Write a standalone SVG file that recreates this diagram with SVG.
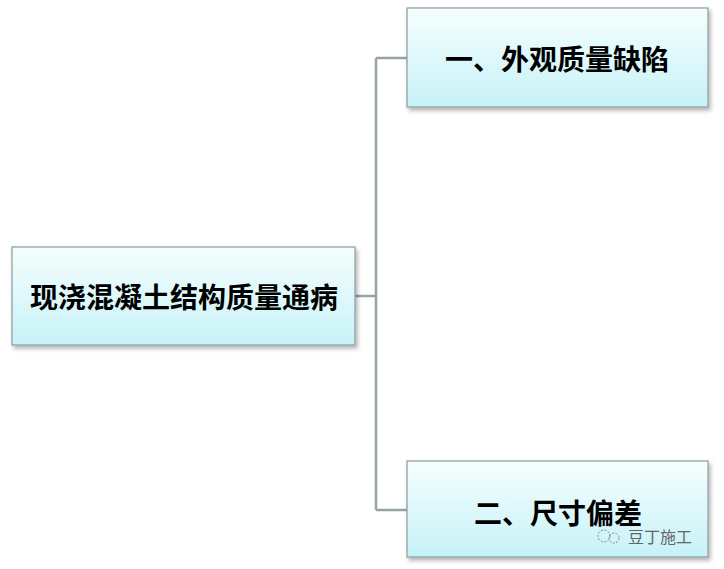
<svg xmlns="http://www.w3.org/2000/svg" width="724" height="569" viewBox="0 0 724 569">
<defs>
<linearGradient id="g" x1="0" y1="0" x2="0" y2="1"><stop offset="0" stop-color="#f6fefe"/><stop offset="1" stop-color="#c6f2f8"/></linearGradient>
<filter id="sh" x="-5%" y="-5%" width="115%" height="120%"><feDropShadow dx="2" dy="3" stdDeviation="2" flood-color="#000" flood-opacity="0.3"/></filter>
</defs>
<style>
.box{fill:url(#g);stroke:#8c9b9b;stroke-width:1.2;filter:url(#sh)}
.t{font-family:"Noto Sans CJK SC",sans-serif;font-weight:bold;font-size:28px;fill:#000;text-anchor:middle}
.c{fill:none;stroke:#98a4a4;stroke-width:2.5}
</style>
<rect width="724" height="569" fill="#fff"/>
<g id="connectors">
<path class="c" d="M355 296 H376 M376 58 V510 M376 58 H407 M376 510 H407"/>
</g>
<g id="root"><rect class="box" x="12" y="247" width="343" height="98"/><text class="t" x="184" y="308">现浇混凝土结构质量通病</text></g>
<g id="n1"><rect class="box" x="407" y="8" width="301" height="99"/><text class="t" x="557" y="70">一、外观质量缺陷</text></g>
<g id="n2"><rect class="box" x="407" y="461" width="301" height="96"/><text class="t" x="558" y="524">二、尺寸偏差</text></g>
<g id="wm">
<circle cx="604" cy="536" r="6" fill="none" stroke="#888" stroke-width="1" stroke-dasharray="2 1.5"/>
<circle cx="614" cy="538" r="5" fill="none" stroke="#888" stroke-width="1" stroke-dasharray="2 1.5"/>
<text x="628" y="543" font-family="Noto Sans CJK SC,sans-serif" font-size="16" fill="#666">豆丁施工</text>
</g>
</svg>
